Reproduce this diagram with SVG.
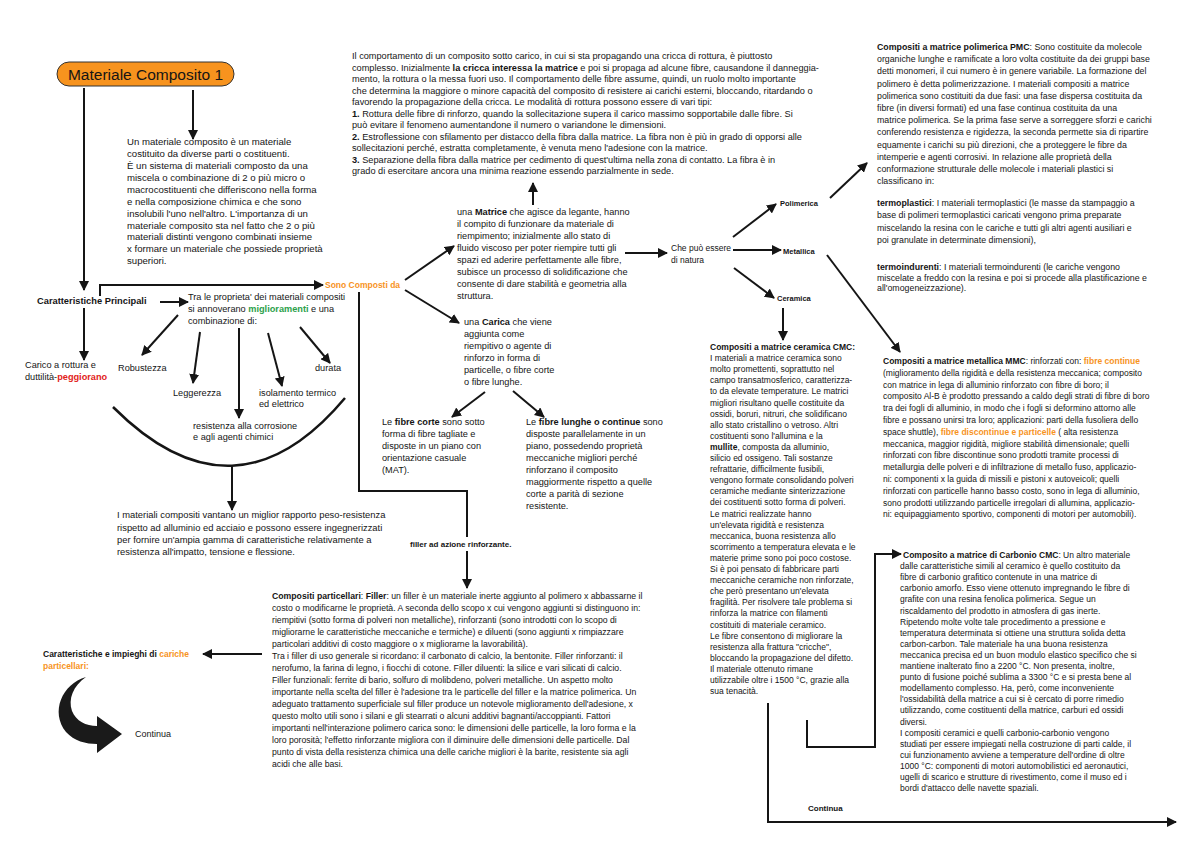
<svg xmlns="http://www.w3.org/2000/svg" width="1200" height="849" viewBox="0 0 1200 849">
<style>
text{font-family:"Liberation Sans",Arial,sans-serif;font-size:8.5px;fill:#151515}
.l{font-size:9.6px}
.m{font-size:9.2px}
.p{font-size:8.8px}
.b{font-weight:bold}
.or{fill:#F7931E;font-weight:bold}
.gr{fill:#2BA14B;font-weight:bold}
.rd{fill:#E2231A;font-weight:bold}
.sm{font-size:7.5px;font-weight:bold}
.c{fill:none;stroke:#151515;stroke-width:2}
</style>
<defs>
<marker id="ah" viewBox="0 0 10 10" refX="9" refY="5" markerWidth="10" markerHeight="10" markerUnits="userSpaceOnUse" orient="auto"><path d="M0,0 L10,5 L0,10 z" fill="#151515"/></marker>
</defs>
<rect width="1200" height="849" fill="#fff"/>

<g id="connectors">
<path class="c" d="M84,88 V290" marker-end="url(#ah)"/>
<path class="c" d="M193,90 V139" marker-end="url(#ah)"/>
<path class="c" d="M100,296 V285 H323" marker-end="url(#ah)"/>
<path class="c" d="M160,302 H188" marker-end="url(#ah)"/>
<path class="c" d="M84,308 V360" marker-end="url(#ah)"/>
<path class="c" d="M178,315 L142,355" marker-end="url(#ah)"/>
<path class="c" d="M200,332 L193,383" marker-end="url(#ah)"/>
<path class="c" d="M239,328 V418" marker-end="url(#ah)"/>
<path class="c" d="M268,333 L282,386" marker-end="url(#ah)"/>
<path class="c" d="M300,327 L330,363" marker-end="url(#ah)"/>
<path class="c" style="stroke-width:2.5" d="M113,407 Q235,529 345,398"/>
<path class="c" d="M232,466 V510" marker-end="url(#ah)"/>
<path class="c" d="M359,292 V491 H467 V537"/>
<path class="c" d="M467,551 V588" marker-end="url(#ah)"/>
<path class="c" d="M262,654 H203" marker-end="url(#ah)"/>
<path class="c" d="M405,280 L454,246" marker-end="url(#ah)"/>
<path class="c" d="M405,290 L459,323" marker-end="url(#ah)"/>
<path class="c" d="M533,205 V183" marker-end="url(#ah)"/>
<path class="c" d="M485,392 L452,417" marker-end="url(#ah)"/>
<path class="c" d="M513,391 L544,417" marker-end="url(#ah)"/>
<path class="c" d="M625,253 H667" marker-end="url(#ah)"/>
<path class="c" d="M733,237 L776,204" marker-end="url(#ah)"/>
<path class="c" d="M733,250 H781" marker-end="url(#ah)"/>
<path class="c" d="M734,268 L774,298" marker-end="url(#ah)"/>
<path class="c" d="M830,198 L867,163" marker-end="url(#ah)"/>
<path class="c" d="M827,255 L900,352" marker-end="url(#ah)"/>
<path class="c" d="M783,308 V340" marker-end="url(#ah)"/>
<path class="c" d="M807,720 V747 H875 V554 H901" marker-end="url(#ah)"/>
<path class="c" d="M768,703 V822 H1176" marker-end="url(#ah)"/>
</g>

<g id="title">
<rect x="57" y="62" width="177" height="24" rx="12" fill="#F7931E" stroke="#333" stroke-width="1"/>
<text x="145.5" y="79.5" text-anchor="middle" style="font-size:15.5px">Materiale Composito 1</text>
</g>

<g id="definizione">
<text class="l">
<tspan x="127" y="145">Un materiale composito è un materiale</tspan>
<tspan x="127" y="157">costituito da diverse parti o costituenti.</tspan>
<tspan x="127" y="169">È un sistema di materiali composto da una</tspan>
<tspan x="127" y="181">miscela o combinazione di 2 o più micro o</tspan>
<tspan x="127" y="193">macrocostituenti che differiscono nella forma</tspan>
<tspan x="127" y="205">e nella composizione chimica e che sono</tspan>
<tspan x="127" y="217">insolubili l'uno nell'altro. L'importanza di un</tspan>
<tspan x="127" y="229">materiale composito sta nel fatto che 2 o più</tspan>
<tspan x="127" y="240">materiali distinti vengono combinati insieme</tspan>
<tspan x="127" y="252">x formare un materiale che possiede proprietà</tspan>
<tspan x="127" y="264">superiori.</tspan>
</text>
</g>

<g id="caratteristiche">
<text x="37" y="304" class="b" style="font-size:9.3px">Caratteristiche Principali</text>
</g>

<g id="proprieta">
<text class="m">
<tspan x="188" y="300">Tra le proprieta' dei materiali compositi</tspan>
<tspan x="188" y="312">si annoverano <tspan class="gr">miglioramenti</tspan> e una</tspan>
<tspan x="188" y="324">combinazione di:</tspan>
</text>
</g>

<g id="carico">
<text class="m"><tspan x="25" y="368">Carico a rottura e</tspan><tspan x="25" y="380">duttilità-<tspan class="rd">peggiorano</tspan></tspan></text>
</g>
<g id="robustezza"><text x="118" y="371" class="m">Robustezza</text></g>
<g id="leggerezza"><text x="173" y="396" class="m">Leggerezza</text></g>
<g id="isolamento"><text class="m"><tspan x="259" y="396">isolamento termico</tspan><tspan x="259" y="407">ed elettrico</tspan></text></g>
<g id="durata"><text x="315" y="371" class="m">durata</text></g>
<g id="resistenza"><text class="m"><tspan x="193" y="429">resistenza alla corrosione</tspan><tspan x="193" y="440">e agli agenti chimici</tspan></text></g>

<g id="vantaggi">
<text style="font-size:9.4px">
<tspan x="117" y="518">I materiali compositi vantano un miglior rapporto peso-resistenza</tspan>
<tspan x="117" y="531">rispetto ad alluminio ed acciaio e possono essere ingegnerizzati</tspan>
<tspan x="117" y="543">per fornire un'ampia gamma di caratteristiche relativamente a</tspan>
<tspan x="117" y="555">resistenza all'impatto, tensione e flessione.</tspan>
</text>
</g>

<g id="sono-composti"><text x="325" y="288" class="or">Sono Composti da</text></g>

<g id="rottura">
<text class="m">
<tspan x="352" y="59">Il comportamento di un composito sotto carico, in cui si sta propagando una cricca di rottura, è piuttosto</tspan>
<tspan x="352" y="70.5">complesso. Inizialmente <tspan class="b">la cricca interessa la matrice</tspan> e poi si propaga ad alcune fibre, causandone il danneggia-</tspan>
<tspan x="352" y="82">mento, la rottura o la messa fuori uso. Il comportamento delle fibre assume, quindi, un ruolo molto importante</tspan>
<tspan x="352" y="93.5">che determina la maggiore o minore capacità del composito di resistere ai carichi esterni, bloccando, ritardando o</tspan>
<tspan x="352" y="105">favorendo la propagazione della cricca. Le modalità di rottura possono essere di vari tipi:</tspan>
<tspan x="352" y="116.5"><tspan class="b">1.</tspan> Rottura delle fibre di rinforzo, quando la sollecitazione supera il carico massimo sopportabile dalle fibre. Si</tspan>
<tspan x="352" y="128">può evitare il fenomeno aumentandone il numero o variandone le dimensioni.</tspan>
<tspan x="352" y="139.5"><tspan class="b">2.</tspan> Estroflessione con sfilamento per distacco della fibra dalla matrice. La fibra non è più in grado di opporsi alle</tspan>
<tspan x="352" y="151">sollecitazioni perché, estratta completamente, è venuta meno l'adesione con la matrice.</tspan>
<tspan x="352" y="162.5"><tspan class="b">3.</tspan> Separazione della fibra dalla matrice per cedimento di quest'ultima nella zona di contatto. La fibra è in</tspan>
<tspan x="352" y="174">grado di esercitare ancora una minima reazione essendo parzialmente in sede.</tspan>
</text>
</g>

<g id="matrice">
<text class="m">
<tspan x="457" y="215">una <tspan class="b">Matrice</tspan> che agisce da legante, hanno</tspan>
<tspan x="457" y="227">il compito di funzionare da materiale di</tspan>
<tspan x="457" y="239">riempimento; inizialmente allo stato di</tspan>
<tspan x="457" y="251">fluido viscoso per poter riempire tutti gli</tspan>
<tspan x="457" y="263">spazi ed aderire perfettamente alle fibre,</tspan>
<tspan x="457" y="275">subisce un processo di solidificazione che</tspan>
<tspan x="457" y="287">consente di dare stabilità e geometria alla</tspan>
<tspan x="457" y="299">struttura.</tspan>
</text>
</g>

<g id="carica">
<text class="m">
<tspan x="464" y="325">una <tspan class="b">Carica</tspan> che viene</tspan>
<tspan x="464" y="337">aggiunta come</tspan>
<tspan x="464" y="349">riempitivo o agente di</tspan>
<tspan x="464" y="361">rinforzo in forma di</tspan>
<tspan x="464" y="373">particelle, o fibre corte</tspan>
<tspan x="464" y="385">o fibre lunghe.</tspan>
</text>
</g>

<g id="fibre-corte">
<text class="m">
<tspan x="382" y="425">Le <tspan class="b">fibre corte</tspan> sono sotto</tspan>
<tspan x="382" y="437">forma di fibre tagliate e</tspan>
<tspan x="382" y="449">disposte in un piano con</tspan>
<tspan x="382" y="461">orientazione casuale</tspan>
<tspan x="382" y="473">(MAT).</tspan>
</text>
</g>

<g id="fibre-lunghe">
<text class="m">
<tspan x="526" y="425">Le <tspan class="b">fibre lunghe o continue</tspan> sono</tspan>
<tspan x="526" y="437">disposte parallelamente in un</tspan>
<tspan x="526" y="449">piano, possedendo proprietà</tspan>
<tspan x="526" y="461">meccaniche migliori perché</tspan>
<tspan x="526" y="473">rinforzano il composito</tspan>
<tspan x="526" y="485">maggiormente rispetto a quelle</tspan>
<tspan x="526" y="497">corte a parità di sezione</tspan>
<tspan x="526" y="509">resistente.</tspan>
</text>
</g>

<g id="natura"><text><tspan x="671" y="251">Che può essere</tspan><tspan x="671" y="263">di natura</tspan></text></g>
<g id="polimerica"><text x="780" y="206" class="sm">Polimerica</text></g>
<g id="metallica"><text x="783" y="254" class="sm">Metallica</text></g>
<g id="ceramica"><text x="777" y="301" class="sm">Ceramica</text></g>

<g id="filler-label"><text x="410" y="547" class="b" style="font-size:8px">filler ad azione rinforzante.</text></g>

<g id="particellari">
<text style="font-size:8.7px">
<tspan x="272" y="599"><tspan class="b">Compositi particellari</tspan>: <tspan class="b">Filler</tspan>: un filler è un materiale inerte aggiunto al polimero x abbassarne il</tspan>
<tspan x="272" y="611">costo o modificarne le proprietà. A seconda dello scopo x cui vengono aggiunti si distinguono in:</tspan>
<tspan x="272" y="623">riempitivi (sotto forma di polveri non metalliche), rinforzanti (sono introdotti con lo scopo di</tspan>
<tspan x="272" y="635">migliorarne le caratteristiche meccaniche e termiche) e diluenti (sono aggiunti x rimpiazzare</tspan>
<tspan x="272" y="647">particolari additivi di costo maggiore o x migliorarne la lavorabilità).</tspan>
<tspan x="272" y="659">Tra i filler di uso generale si ricordano: il carbonato di calcio, la bentonite. Filler rinforzanti: il</tspan>
<tspan x="272" y="671">nerofumo, la farina di legno, i fiocchi di cotone. Filler diluenti: la silice e vari silicati di calcio.</tspan>
<tspan x="272" y="683">Filler funzionali: ferrite di bario, solfuro di molibdeno, polveri metalliche. Un aspetto molto</tspan>
<tspan x="272" y="695">importante nella scelta del filler è l'adesione tra le particelle del filler e la matrice polimerica. Un</tspan>
<tspan x="272" y="707">adeguato trattamento superficiale sul filler produce un notevole miglioramento dell'adesione, x</tspan>
<tspan x="272" y="719">questo molto utili sono i silani e gli stearrati o alcuni additivi bagnanti/accoppianti. Fattori</tspan>
<tspan x="272" y="731">importanti nell'interazione polimero carica sono: le dimensioni delle particelle, la loro forma e la</tspan>
<tspan x="272" y="743">loro porosità; l'effetto rinforzante migliora con il diminuire delle dimensioni delle particelle. Dal</tspan>
<tspan x="272" y="755">punto di vista della resistenza chimica una delle cariche migliori è la barite, resistente sia agli</tspan>
<tspan x="272" y="767">acidi che alle basi.</tspan>
</text>
</g>

<g id="impieghi">
<text class="b"><tspan x="43" y="657">Caratteristiche e impieghi di <tspan class="or">cariche</tspan></tspan><tspan x="43" y="669" class="or">particellari:</tspan></text>
</g>

<g id="continua-left">
<path d="M86,677 C62,684 50,712 66,732 C74,741 86,744 97,744 L97,753 L122,734 L97,716 L97,726 C86,726 76,721 72,711 C68,699 73,686 86,677 Z" fill="#1a1a1a"/>
<text x="135" y="737" style="font-size:9px">Continua</text>
</g>

<g id="cmc-ceramica">
<text>
<tspan x="710" y="350" class="b">Compositi a matrice ceramica CMC:</tspan>
<tspan x="710" y="361.1">I materiali a matrice ceramica sono</tspan>
<tspan x="710" y="372.2">molto promettenti, soprattutto nel</tspan>
<tspan x="710" y="383.3">campo transatmosferico, caratterizza-</tspan>
<tspan x="710" y="394.4">to da elevate temperature. Le matrici</tspan>
<tspan x="710" y="405.5">migliori risultano quelle costituite da</tspan>
<tspan x="710" y="416.6">ossidi, boruri, nitruri, che solidificano</tspan>
<tspan x="710" y="427.7">allo stato cristallino o vetroso. Altri</tspan>
<tspan x="710" y="438.8">costituenti sono l'allumina e la</tspan>
<tspan x="710" y="449.9"><tspan class="b">mullite</tspan>, composta da alluminio,</tspan>
<tspan x="710" y="461">silicio ed ossigeno. Tali sostanze</tspan>
<tspan x="710" y="472.1">refrattarie, difficilmente fusibili,</tspan>
<tspan x="710" y="483.2">vengono formate consolidando polveri</tspan>
<tspan x="710" y="494.3">ceramiche mediante sinterizzazione</tspan>
<tspan x="710" y="505.4">dei costituenti sotto forma di polveri.</tspan>
<tspan x="710" y="516.5">Le matrici realizzate hanno</tspan>
<tspan x="710" y="527.6">un'elevata rigidità e resistenza</tspan>
<tspan x="710" y="538.7">meccanica, buona resistenza allo</tspan>
<tspan x="710" y="549.8">scorrimento a temperatura elevata e le</tspan>
<tspan x="710" y="560.9">materie prime sono poi poco costose.</tspan>
<tspan x="710" y="572">Si è poi pensato di fabbricare parti</tspan>
<tspan x="710" y="583.1">meccaniche ceramiche non rinforzate,</tspan>
<tspan x="710" y="594.2">che però presentano un'elevata</tspan>
<tspan x="710" y="605.3">fragilità. Per risolvere tale problema si</tspan>
<tspan x="710" y="616.4">rinforza la matrice con filamenti</tspan>
<tspan x="710" y="627.5">costituiti di materiale ceramico.</tspan>
<tspan x="710" y="638.6">Le fibre consentono di migliorare la</tspan>
<tspan x="710" y="649.7">resistenza alla frattura "cricche",</tspan>
<tspan x="710" y="660.8">bloccando la propagazione del difetto.</tspan>
<tspan x="710" y="671.9">Il materiale ottenuto rimane</tspan>
<tspan x="710" y="683">utilizzabile oltre i 1500 °C, grazie alla</tspan>
<tspan x="710" y="694.1">sua tenacità.</tspan>
</text>
</g>

<g id="continua-right"><text x="808" y="811" class="b" style="font-size:8px">Continua</text></g>

<g id="pmc">
<text class="p">
<tspan x="877" y="50"><tspan class="b">Compositi a matrice polimerica PMC</tspan>: Sono costituite da molecole</tspan>
<tspan x="877" y="62.2">organiche lunghe e ramificate a loro volta costituite da dei gruppi base</tspan>
<tspan x="877" y="74.4">detti monomeri, il cui numero è in genere variabile. La formazione del</tspan>
<tspan x="877" y="86.6">polimero è detta polimerizzazione. I materiali compositi a matrice</tspan>
<tspan x="877" y="98.8">polimerica sono costituiti da due fasi: una fase dispersa costituita da</tspan>
<tspan x="877" y="111">fibre (in diversi formati) ed una fase continua costituita da una</tspan>
<tspan x="877" y="123.2">matrice polimerica. Se la prima fase serve a sorreggere sforzi e carichi</tspan>
<tspan x="877" y="135.4">conferendo resistenza e rigidezza, la seconda permette sia di ripartire</tspan>
<tspan x="877" y="147.6">equamente i carichi su più direzioni, che a proteggere le fibre da</tspan>
<tspan x="877" y="159.8">intemperie e agenti corrosivi. In relazione alle proprietà della</tspan>
<tspan x="877" y="172">conformazione strutturale delle molecole i materiali plastici si</tspan>
<tspan x="877" y="184.2">classificano in:</tspan>
<tspan x="877" y="206"><tspan class="b">termoplastici</tspan>: I materiali termoplastici (le masse da stampaggio a</tspan>
<tspan x="877" y="218">base di polimeri termoplastici caricati vengono prima preparate</tspan>
<tspan x="877" y="231">miscelando la resina con le cariche e tutti gli altri agenti ausiliari e</tspan>
<tspan x="877" y="243">poi granulate in determinate dimensioni),</tspan>
<tspan x="877" y="270"><tspan class="b">termoindurenti</tspan>: I materiali termoindurenti (le cariche vengono</tspan>
<tspan x="877" y="281">miscelate a freddo con la resina e poi si procede alla plastificazione e</tspan>
<tspan x="877" y="291">all'omogeneizzazione).</tspan>
</text>
</g>

<g id="mmc">
<text>
<tspan x="883" y="364"><tspan class="b">Compositi a matrice metallica MMC</tspan>: rinforzati con: <tspan class="or">fibre continue</tspan></tspan>
<tspan x="883" y="375.8">(miglioramento della rigidità e della resistenza meccanica; composito</tspan>
<tspan x="883" y="387.6">con matrice in lega di alluminio rinforzato con fibre di boro; il</tspan>
<tspan x="883" y="399.4">composito Al-B è prodotto pressando a caldo degli strati di fibre di boro</tspan>
<tspan x="883" y="411.2">tra dei fogli di alluminio, in modo che i fogli si deformino attorno alle</tspan>
<tspan x="883" y="423">fibre e possano unirsi tra loro; applicazioni: parti della fusoliera dello</tspan>
<tspan x="883" y="434.8">space shuttle), <tspan class="or">fibre discontinue e particelle</tspan> ( alta resistenza</tspan>
<tspan x="883" y="446.6">meccanica, maggior rigidità, migliore stabilità dimensionale; quelli</tspan>
<tspan x="883" y="458.4">rinforzati con fibre discontinue sono prodotti tramite processi di</tspan>
<tspan x="883" y="470.2">metallurgia delle polveri e di infiltrazione di metallo fuso, applicazio-</tspan>
<tspan x="883" y="482">ni: componenti x la guida di missili e pistoni x autoveicoli; quelli</tspan>
<tspan x="883" y="493.8">rinforzati con particelle hanno basso costo, sono in lega di alluminio,</tspan>
<tspan x="883" y="505.6">sono prodotti utilizzando particelle irregolari di allumina, applicazio-</tspan>
<tspan x="883" y="517.4">ni: equipaggiamento sportivo, componenti di motori per automobili).</tspan>
</text>
</g>

<g id="carbonio">
<text>
<tspan x="903" y="558"><tspan class="b">Composito a matrice di Carbonio CMC</tspan>: Un altro materiale</tspan>
<tspan x="900" y="569.1">dalle caratteristiche simili al ceramico è quello costituito da</tspan>
<tspan x="900" y="580.2">fibre di carbonio grafitico contenute in una matrice di</tspan>
<tspan x="900" y="591.3">carbonio amorfo. Esso viene ottenuto impregnando le fibre di</tspan>
<tspan x="900" y="602.4">grafite con una resina fenolica polimerica. Segue un</tspan>
<tspan x="900" y="613.5">riscaldamento del prodotto in atmosfera di gas inerte.</tspan>
<tspan x="900" y="624.6">Ripetendo molte volte tale procedimento a pressione e</tspan>
<tspan x="900" y="635.7">temperatura determinata si ottiene una struttura solida detta</tspan>
<tspan x="900" y="646.8">carbon-carbon. Tale materiale ha una buona resistenza</tspan>
<tspan x="900" y="657.9">meccanica precisa ed un buon modulo elastico specifico che si</tspan>
<tspan x="900" y="669">mantiene inalterato fino a 2200 °C. Non presenta, inoltre,</tspan>
<tspan x="900" y="680.1">punto di fusione poiché sublima a 3300 °C e si presta bene al</tspan>
<tspan x="900" y="691.2">modellamento complesso. Ha, però, come inconveniente</tspan>
<tspan x="900" y="702.3">l'ossidabilità della matrice a cui si è cercato di porre rimedio</tspan>
<tspan x="900" y="713.4">utilizzando, come costituenti della matrice, carburi ed ossidi</tspan>
<tspan x="900" y="724.5">diversi.</tspan>
<tspan x="900" y="735.6">I compositi ceramici e quelli carbonio-carbonio vengono</tspan>
<tspan x="900" y="746.7">studiati per essere impiegati nella costruzione di parti calde, il</tspan>
<tspan x="900" y="757.8">cui funzionamento avviene a temperature dell'ordine di oltre</tspan>
<tspan x="900" y="768.9">1000 °C: componenti di motori automobilistici ed aeronautici,</tspan>
<tspan x="900" y="780">ugelli di scarico e strutture di rivestimento, come il muso ed i</tspan>
<tspan x="900" y="791.1">bordi d'attacco delle navette spaziali.</tspan>
</text>
</g>
</svg>
